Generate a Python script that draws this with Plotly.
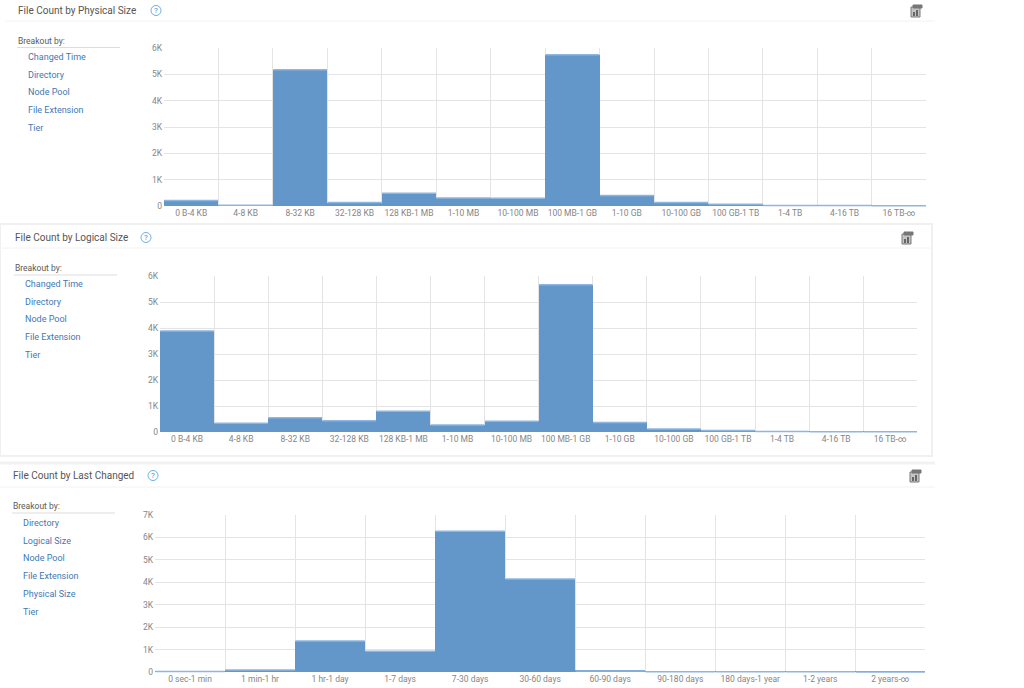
import math

import plotly.graph_objects as go

W, H = 1024, 688

SIZE_LABELS = ["0 B-4 KB", "4-8 KB", "8-32 KB", "32-128 KB", "128 KB-1 MB", "1-10 MB", "10-100 MB",
               "100 MB-1 GB", "1-10 GB", "10-100 GB", "100 GB-1 TB", "1-4 TB", "4-16 TB", "16 TB-∞"]
PHYSICAL_COUNTS = [210, 30, 5170, 130, 480, 300, 290, 5740, 400, 130, 70, 20, 15, 10]
LOGICAL_COUNTS = [3880, 340, 550, 430, 800, 270, 410, 5660, 370, 120, 60, 20, 10, 5]

CHANGED_LABELS = ["0 sec-1 min", "1 min-1 hr", "1 hr-1 day", "1-7 days", "7-30 days", "30-60 days",
                  "60-90 days", "90-180 days", "180 days-1 year", "1-2 years", "2 years-∞"]
CHANGED_COUNTS = [20, 90, 1380, 930, 6280, 4150, 50, 15, 10, 10, 5]

Y_TICKS_6K = [0, 1000, 2000, 3000, 4000, 5000, 6000]
Y_LABELS_6K = ["0", "1K", "2K", "3K", "4K", "5K", "6K"]
Y_TICKS_7K = [0, 1000, 2000, 3000, 4000, 5000, 6000, 7000]
Y_LABELS_7K = ["0", "1K", "2K", "3K", "4K", "5K", "6K", "7K"]

BREAKOUT_SIZE = ["Changed Time", "Directory", "Node Pool", "File Extension", "Tier"]
BREAKOUT_CHANGED = ["Directory", "Logical Size", "Node Pool", "File Extension", "Physical Size", "Tier"]

FONT = "Roboto"
BAR = "#6497c9"
BAR_EDGE = "#8db6e2"
GRID = "#e4e4e4"
TICK = "#868686"
LINK = "#3f78b5"
TITLE = "#555555"
BAND = "#f2f2f2"

fig = go.Figure()


def px(x):
    return x / W


def py(y):
    return 1 - y / H


def add_text(x, y, text, size, color, xanchor="left"):
    fig.add_annotation(xref="paper", yref="paper", x=px(x), y=py(y), text=text, showarrow=False,
                       xanchor=xanchor, yanchor="middle", align="left",
                       borderpad=0, font=dict(family=FONT, size=size, color=color))


def add_box(x0, y0, x1, y1, fill=None, line=None, width=1, kind="rect"):
    fig.add_shape(type=kind, xref="paper", yref="paper", x0=px(x0), x1=px(x1), y0=py(y0), y1=py(y1),
                  fillcolor=fill, line=dict(color=line, width=width if line else 0), layer="below")


def add_rule(x0, x1, y, color=BAND, width=1):
    fig.add_shape(type="line", xref="paper", yref="paper", x0=px(x0), x1=px(x1), y0=py(y), y1=py(y),
                  line=dict(color=color, width=width), layer="below")


def add_icon(cx, cy):
    # clipboard with small bars, top right of each panel
    add_box(cx - 5, cy - 4, cx + 4, cy + 6, fill="#c4c4c4", line="#7a7a7a")
    add_box(cx - 3, cy - 6, cx + 6, cy - 3, fill="#777777", line="#777777")
    add_box(cx - 3, cy + 1, cx - 1, cy + 5, fill="#666666")
    add_box(cx, cy - 1, cx + 2, cy + 5, fill="#666666")


def add_panel(n, title, title_x, title_y, help_x, rule_y, rule_x1, icon_x, break_y, links, link_ys,
              plot, labels, values, ticks, tick_labels):
    add_text(title_x - 0.5, title_y, title, 10, TITLE)
    add_box(help_x - 5, title_y - 4.5, help_x + 5, title_y + 5.5, fill="white", line="#6aaee6", kind="circle")
    add_text(help_x, title_y + 0.5, "?", 8, "#4a90d0", xanchor="center")
    add_rule(title_x - 12, rule_x1, rule_y)
    add_icon(icon_x, title_y + 1)
    add_text(title_x - 0.5, break_y, "Breakout by:", 8.5, "#5a5a5a")
    add_rule(title_x, title_x + 103, break_y + 7, color="#dddddd")
    for name, y in zip(links, link_ys):
        add_text(title_x + 10, y, name, 9, LINK)

    x0, x1, y_top, y_bottom = plot
    suffix = "" if n == 1 else str(n)
    xa, ya = "x" + suffix, "y" + suffix
    fig.add_trace(go.Bar(x=labels, y=values, xaxis=xa, yaxis=ya, width=1,
                         marker=dict(color=BAR, line=dict(width=0)),
                         hovertemplate="%{x}: %{y}<extra></extra>"))
    # lighter cap along the top of each bar only (line-ew draws size*sqrt2 wide)
    fig.add_trace(go.Scatter(x=labels, y=values, xaxis=xa, yaxis=ya, mode="markers", hoverinfo="skip",
                             cliponaxis=False,
                             marker=dict(symbol="line-ew", size=(x1 - x0) / len(labels) / math.sqrt(2),
                                         line=dict(color=BAR_EDGE, width=1.5))))
    fig.update_layout({
        "xaxis" + suffix: dict(domain=[px(x0), px(x1)], anchor=ya, type="category", automargin=False,
                               categoryorder="array", categoryarray=labels, tickson="boundaries",
                               range=[-0.5, len(labels) - 0.505], showgrid=True, gridcolor=GRID, gridwidth=1,
                               ticks="", showline=False, zeroline=False, tickangle=0,
                               tickfont=dict(family=FONT, size=8.5, color=TICK)),
        "yaxis" + suffix: dict(domain=[py(y_bottom), py(y_top)], anchor=xa, automargin=False,
                               range=[0, ticks[-1]], tickvals=ticks, ticktext=tick_labels,
                               ticklabelstandoff=1,
                               showgrid=True, gridcolor=GRID, gridwidth=1, ticks="", showline=False,
                               zeroline=False, tickfont=dict(family=FONT, size=8.5, color=TICK)),
    })


# panel frames and the pale bands between them
add_box(0, 224, 932, 456, fill="white", line="#f0f0f0", width=2)
add_rule(0, 935, 463, width=3)

add_panel(1, "File Count by Physical Size", 17, 10, 156, 21, 935, 916, 40.5, BREAKOUT_SIZE,
          [57, 75, 92, 110, 128], (164, 926, 48, 206), SIZE_LABELS, PHYSICAL_COUNTS, Y_TICKS_6K, Y_LABELS_6K)
add_panel(2, "File Count by Logical Size", 14, 237, 146, 248, 930, 907, 268, BREAKOUT_SIZE,
          [284, 302, 319, 337, 355], (160, 917, 276, 432), SIZE_LABELS, LOGICAL_COUNTS, Y_TICKS_6K, Y_LABELS_6K)
add_panel(3, "File Count by Last Changed", 12, 475, 153, 487, 935, 915, 506, BREAKOUT_CHANGED,
          [523, 541, 558, 576, 594, 612], (155, 925, 515, 672), CHANGED_LABELS, CHANGED_COUNTS, Y_TICKS_7K, Y_LABELS_7K)

fig.update_layout(width=W, height=H, margin=dict(l=0, r=0, t=0, b=0), showlegend=False, bargap=0,
                  paper_bgcolor="white", plot_bgcolor="rgba(0,0,0,0)", font=dict(family=FONT))

fig.write_html("out.html", post_script="document.body.style.margin='0';", config={"displayModeBar": False})
